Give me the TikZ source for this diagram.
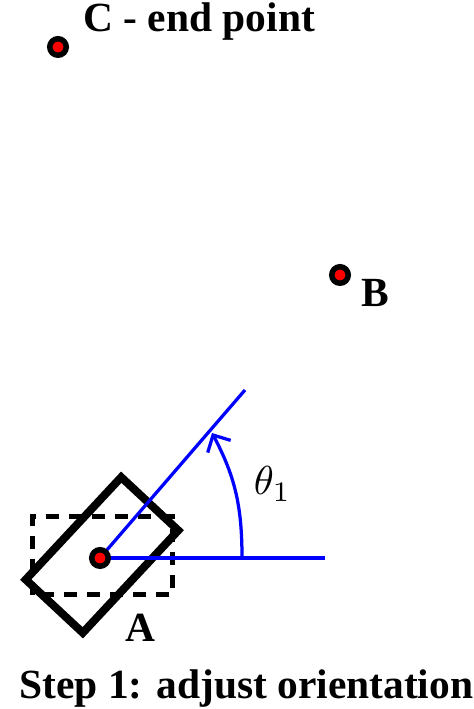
\documentclass[tikz,border=0pt]{standalone}
\usepackage{amsmath}
\usepackage{fontspec}
\setmainfont{Liberation Serif}
\usepackage{tikz}
\usetikzlibrary{arrows}
\usetikzlibrary{arrows.meta}

\tikzset{
  pt/.style={circle,draw=black,fill=red,line width=0.11cm,minimum size=0.33cm,inner sep=0pt},
  lbl/.style={font=\fontsize{23.6}{28}\selectfont\bfseries,inner sep=0pt},
  ray/.style={color=blue,line width=0.065cm},
  box/.style={line width=0.16cm,join=miter}
}

\begin{document}
\begin{tikzpicture}
  \useasboundingbox (0,0) rectangle (9.48,14.18);
  \coordinate (a) at (2,3.02);
  \coordinate (b) at (6.8,8.68);
  \coordinate (c) at (1.16,13.24);

  % robot footprint before and after turning
  \draw[line width=0.1cm,dash pattern=on 0.26cm off 0.2cm] (2.04,3.06) ++(-1.4,-0.78) rectangle ++(2.8,1.56);
  \draw[box,rotate around={47:(2.04,3.08)}] (2.04,3.08) ++(-1.4,-0.78) rectangle ++(2.8,1.56);

  % heading angle
  \draw[ray] (a) -- (6.5,3.02) coordinate(h_end);
  \draw[ray] (a) -- (4.9,6.38) coordinate(s_end);
  \coordinate (arc_a) at (4.84,3.02);
  \coordinate (arc_b) at (4.24,5.52);
  \draw[ray,-{Straight Barb[length=0.26cm,width=0.52cm]}] (arc_a) to[out=90,in=-62] (arc_b);
  \draw (5.06,4.28) node[anchor=base west,inner sep=0pt,scale=2.3](th){$\theta_1$};

  \node[pt] (pa) at (a) {};
  \node[pt] (pb) at (b) {};
  \node[pt] (pc) at (c) {};

  \draw (2.8,1.34) node[lbl,anchor=base](a_text){A};
  \draw (7.5,8.04) node[lbl,anchor=base](b_text){B};
  \draw (1.66,13.54) node[lbl,anchor=base west](c_text){C - end point};
  \draw (0.38,0.22) node[lbl,anchor=base west](step_text){Step 1: adjust orientation};
\end{tikzpicture}
\end{document}
